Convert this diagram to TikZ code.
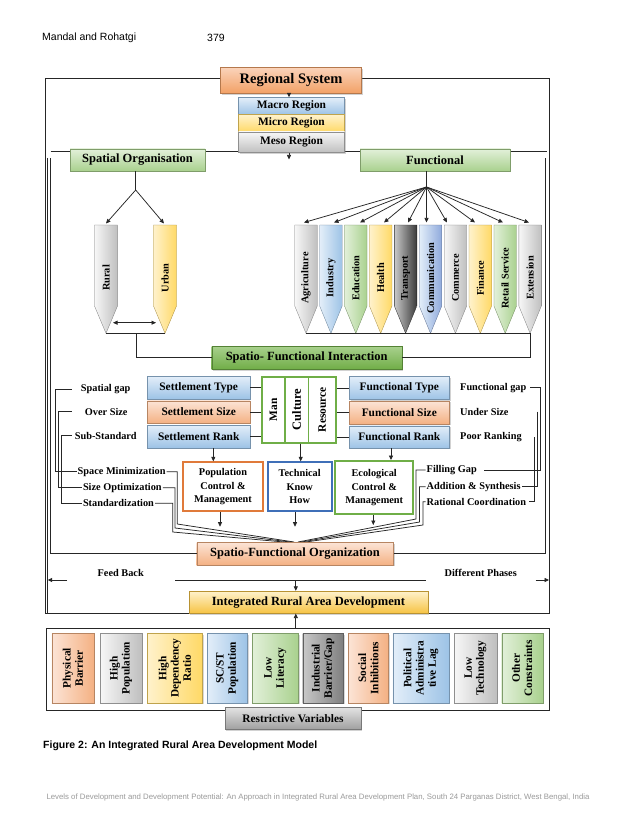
\documentclass[tikz,border=0pt]{standalone}
\usepackage{fontspec}
\setmainfont{Liberation Serif}
\newfontfamily\arialf{Liberation Sans}
\usetikzlibrary{arrows.meta,shadows,calc}
\definecolor{orL}{HTML}{FCE4D6}
\definecolor{orD}{HTML}{F4B183}
\definecolor{orRL}{HTML}{FAD3BA}
\definecolor{orRD}{HTML}{F2A065}
\definecolor{blL}{HTML}{E3EEF9}
\definecolor{blD}{HTML}{9DC3E6}
\definecolor{blS}{HTML}{8FAADC}
\definecolor{yeL}{HTML}{FFF2CC}
\definecolor{yeD}{HTML}{FFD966}
\definecolor{yeI}{HTML}{F6C343}
\definecolor{grL}{HTML}{F7F7F7}
\definecolor{grD}{HTML}{BFBFBF}
\definecolor{gnL}{HTML}{E2F0D9}
\definecolor{gnD}{HTML}{A9D18E}
\definecolor{gnS}{HTML}{70AD47}
\definecolor{dkL}{HTML}{C8C8C8}
\definecolor{dkD}{HTML}{3A3A3A}
\definecolor{mdL}{HTML}{C8C8C8}
\definecolor{mdD}{HTML}{7F7F7F}
\definecolor{rvL}{HTML}{E3E3E3}
\definecolor{rvD}{HTML}{A0A0A0}
\definecolor{lineC}{HTML}{262626}
\definecolor{popC}{HTML}{E07A3A}
\definecolor{techC}{HTML}{3F6FB8}
\definecolor{ecoC}{HTML}{6FAE47}
\definecolor{footC}{HTML}{9A9A9A}
\tikzset{
  ln/.style={draw=lineC, line width=0.75pt},
  arr/.style={ln, -{Triangle[length=4.5pt,width=4pt]}},
  darr/.style={ln, {Triangle[length=4.5pt,width=4pt]}-{Triangle[length=4.5pt,width=4pt]}},
  gbox/.style 2 args={top color=#1, bottom color=#2, draw=#2!75!black, line width=0.4pt, inner sep=0pt,
     drop shadow={shadow xshift=1.2pt, shadow yshift=-1.2pt, opacity=0.35, fill=black!50}},
  hbox/.style 2 args={left color=#1, right color=#2, draw=#2!75!black, line width=0.4pt, inner sep=0pt,
     drop shadow={shadow xshift=1.2pt, shadow yshift=-1.2pt, opacity=0.3, fill=black!50}},
  t14/.style={font=\bfseries\fontsize{14.5}{17}\selectfont},
  t12/.style={font=\bfseries\fontsize{12.5}{15}\selectfont},
  t11/.style={font=\bfseries\fontsize{11.4}{13}\selectfont},
  t10/.style={font=\bfseries\fontsize{10.3}{13.7}\selectfont},
  tr/.style={font=\bfseries\fontsize{11.3}{12.2}\selectfont},
  lab/.style={font=\bfseries\fontsize{10.3}{12}\selectfont, inner sep=1pt},
  pbox/.style={fill=white, line width=2pt, inner sep=0pt, align=center, t10},
}
\newcommand{\drawpencil}[6]{%
  \path[draw=#5!65!black, line width=0.3pt, left color=#4, right color=#5]
    (#2-#3,225) -- (#2+#3,225) -- (#2+#3,306) -- (#2,333.3) -- (#2-#3,306) -- cycle;
  \coordinate (#1top) at (#2,225);
  \coordinate (#1tip) at (#2,333.3);
  \node[rotate=90, t10, inner sep=0pt] (#1) at (#2,278) {#6};
}
\begin{document}
\begin{tikzpicture}[x=1pt,y=-1pt]
\fill[white] (0,0) rectangle (638,826);
\useasboundingbox (0,0) rectangle (638,826);

% header
\node[anchor=west, font=\arialf\fontsize{10.5}{12}\selectfont, inner sep=0pt] (hdr) at (42,38) {Mandal and Rohatgi};
\node[anchor=west, font=\arialf\fontsize{10.5}{12}\selectfont, inner sep=0pt] (pg) at (207,38) {379};

% frames
\draw[ln] (45.5,78) rectangle (549,613.3);
\coordinate (mlT) at (47.7,158);
\coordinate (mlB) at (47.7,613.3);
\draw[ln] (mlT) -- (mlB);
\coordinate (hL) at (50.5,151);
\coordinate (hR) at (547,151);
\draw[ln] (hL) -- (hR);
\coordinate (iL) at (50,158);
\coordinate (iR) at (545.5,158);

% regional system
\node[gbox={orRL}{orRD}, minimum width=141, minimum height=26, t14] (rs) at (291,80.5) {Regional System};
\node[gbox={blL}{blD}, minimum width=106, minimum height=17, t11] (mac) at (291.5,106) {Macro Region};
\node[gbox={yeL}{yeD}, minimum width=106, minimum height=17.5, t11] (mic) at (291.5,123.25) {Micro Region};
\node[gbox={grL}{grD}, minimum width=106, minimum height=20.5, t11] (mes) at (291.5,142.25) {Meso Region};
\draw[arr] (rs.south -| 289,0) -- (mac.north -| 289,0);
\coordinate (mesA) at (289,159.5);
\draw[arr] (mes.south -| mesA) -- (mesA);

\node[gbox={gnL}{gnD}, minimum width=135, minimum height=22, t12] (so) at (137.5,160) {Spatial Organisation};
\node[gbox={gnL}{gnD}, minimum width=150, minimum height=22, t12] (fn) at (435,160) {Functional};

% rural / urban
\coordinate (soh) at (135.7,190);
\draw[ln] (so.south -| soh) -- (soh);
\drawpencil{rur}{106}{11.5}{grL}{grD}{Rural}
\drawpencil{urb}{165}{11.5}{yeL}{yeD}{Urban}
\coordinate (rurA) at (106,223.5);
\coordinate (urbA) at (164,223.5);
\draw[arr] (soh) -- (rurA);
\draw[arr] (soh) -- (urbA);
\coordinate (ruD) at (113,322.7);
\coordinate (urD) at (156,322.7);
\draw[darr] (ruD) -- (urD);
\draw[ln] (rurtip) -- (urbtip);
\coordinate (rum) at (136,333.3);

% interaction box
\node[gbox={gnD}{gnS}, minimum width=190, minimum height=23.3, t12] (sfi) at (306.7,357.7) {Spatio- Functional Interaction};
\draw[ln] (rum) |- (sfi.west);

% functional pencils
\coordinate (fh) at (426.5,187);
\draw[ln] (fh |- fn.south) -- (fh);
\foreach \i/\cx/\cl/\cd/\tx/\ax in {
  1/306/grL/grD/Agriculture/304,
  2/330.9/blL/blD/Industry/334,
  3/355.8/gnL/gnD/Education/360,
  4/380.7/yeL/yeD/Health/384,
  5/405.6/dkL/dkD/Transport/408,
  6/430.5/blL/blS/Communication/426.5,
  7/455.4/grL/grD/Commerce/447,
  8/480.3/yeL/yeD/Finance/475,
  9/505.2/gnL/gnD/Retail Service/503,
  10/530.1/grL/grD/Extension/529} {
  \drawpencil{fp\i}{\cx}{11.25}{\cl}{\cd}{\tx}
  \coordinate (fa\i) at (\ax,222.5);
  \draw[arr] (fh) -- (fa\i);
}
\draw[ln] (fp1tip) -- (fp10tip);
\draw[ln] (fp10tip) |- (sfi.east);

% settlement boxes
\node[gbox={blL}{blD}, minimum width=102.7, minimum height=22.5, t11] (st) at (198.7,387.7) {Settlement Type};
\node[gbox={orL}{orD}, minimum width=102.7, minimum height=22.5, t11] (ss) at (198.7,412) {Settlement Size};
\node[gbox={blL}{blD}, minimum width=102.7, minimum height=22.5, t11] (sr) at (198.7,436.5) {Settlement Rank};

% man culture resource
\node[draw=ecoC, line width=1.6pt, minimum width=23.3, minimum height=66, inner sep=0pt] (man) at (273.35,409.7) {};
\node[draw=ecoC, line width=1.6pt, minimum width=23.3, minimum height=66, inner sep=0pt] (cul) at (296.65,409.7) {};
\node[draw=ecoC, line width=1.6pt, minimum width=27.7, minimum height=66, inner sep=0pt] (res) at (322.15,409.7) {};
\node[rotate=90, t11] (mant) at (man) {Man};
\node[rotate=90, font=\bfseries\fontsize{12.5}{14}\selectfont] (cult) at (cul) {Culture};
\node[rotate=90, t11] (rest) at (res) {Resource};

\draw[ln] (st.east) -- (st.east -| man.west);
\draw[ln] (ss.east) -- (ss.east -| man.west);
\draw[ln] (sr.east) -- (sr.east -| man.west);

% functional boxes
\node[gbox={blL}{blD}, minimum width=100, minimum height=23, t11] (ft) at (399.3,388) {Functional Type};
\node[gbox={orL}{orD}, minimum width=100, minimum height=23, t11] (fs) at (399.3,412.5) {Functional Size};
\node[gbox={blL}{blD}, minimum width=100, minimum height=22.5, t11] (fr) at (399.3,437) {Functional Rank};
\draw[ln] (res.east |- ft.west) -- (ft.west);
\draw[ln] (res.east |- fs.west) -- (fs.west);
\draw[ln] (res.east |- fr.west) -- (fr.west);

% left labels
\node[lab] (lsg) at (105.7,389.3) {Spatial gap};
\node[lab] (los) at (106.2,411.7) {Over Size};
\node[lab] (lss) at (105.8,435.7) {Sub-Standard};
\node[lab, anchor=west] (lsm) at (76.5,471.7) {Space Minimization};
\node[lab, anchor=west] (lso) at (81.8,487.7) {Size Optimization};
\node[lab, anchor=west] (lst) at (81.8,503.3) {Standardization};
\coordinate (lb1s) at (71.7,389.3);
\coordinate (lb1c) at (55,471.7);
\coordinate (lb2s) at (71.7,411.7);
\coordinate (lb2c) at (58.3,487.7);
\coordinate (lb3s) at (71.7,435.7);
\coordinate (lb3c) at (61.7,503.3);
\draw[ln] (lb1s) -| (lb1c) -- (lsm.west);
\draw[ln] (lb2s) -| (lb2c) -- (lso.west);
\draw[ln] (lb3s) -| (lb3c) -- (lst.west);

% right labels
\node[lab, anchor=west] (lfgap) at (459,387.7) {Functional gap};
\node[lab, anchor=west] (lus) at (459,411.7) {Under Size};
\node[lab, anchor=west] (lpr) at (459,437) {Poor Ranking};
\node[lab, anchor=west] (lfg) at (425.5,470) {Filling Gap};
\node[lab, anchor=west] (las) at (425.5,486.7) {Addition \& Synthesis};
\node[lab, anchor=west] (lrc) at (425.5,501.7) {Rational Coordination};
\coordinate (rb1s) at (530,387.7);
\coordinate (rb1c) at (540,470);
\coordinate (rb2s) at (537,411.7);
\coordinate (rb2c) at (537,486.7);
\coordinate (rb3s) at (534,437);
\coordinate (rb3c) at (534,501.7);
\draw[ln] (rb1s) -| (rb1c) -- ($(lfg.east)+(6,0)$);
\draw[ln] (rb2s) -- (rb2c) -- (las.east);
\draw[ln] (rb3s) -- (rb3c) -- ($(lrc.east)+(2,0)$);

% process boxes
\node[pbox, draw=popC, minimum width=80.6, minimum height=48.7] (pop) at (223,486.7) {Population\\Control \&\\Management};
\node[pbox, draw=techC, minimum width=64, minimum height=48.7] (tech) at (299.7,486.7) {Technical\\Know\\How};
\node[pbox, draw=ecoC, minimum width=78.3, minimum height=53.3] (eco) at (374.2,487.7) {Ecological\\Control \&\\Management};
\coordinate (popN) at (213.3,0);
\coordinate (techN) at (300.7,0);
\coordinate (ecoN) at (391,0);
\draw[arr] (sr.south -| popN) -- (pop.north -| popN);
\draw[arr] (man.south -| techN) -- (tech.north -| techN);
\draw[arr] (fr.south -| ecoN) -- (eco.north -| ecoN);
\coordinate (popO) at (220,526.7);
\coordinate (techO) at (295,526.7);
\coordinate (ecoO) at (373.3,525);
\draw[arr] (pop.south -| popO) -- (popO);
\draw[arr] (tech.south -| techO) -- (techO);
\draw[arr] (eco.south -| ecoO) -- (ecoO);

% converging lines
\coordinate (l1a) at (177.3,524);
\coordinate (l2a) at (175,528);
\coordinate (l3a) at (172.7,532);
\coordinate (cv1) at (294,542);
\coordinate (cv2) at (294.5,542.5);
\coordinate (cv3) at (295,543);
\draw[ln] (lsm.east) -| (l1a) -- (cv1);
\draw[ln] (lso.east) -| (l2a) -- (cv2);
\draw[ln] (lst.east) -| (l3a) -- (cv3);
\coordinate (r1a) at (416,519);
\coordinate (r2a) at (419.5,522);
\coordinate (r3a) at (423,525);
\coordinate (cr1) at (298,542);
\coordinate (cr2) at (298.5,542.5);
\coordinate (cr3) at (299,543);
\draw[ln] (lfg.west) -| (r1a) -- (cr1);
\draw[ln] (las.west) -| (r2a) -- (cr2);
\draw[ln] (lrc.west) -| (r3a) -- (cr3);

% spatio-functional organization
\node[gbox={orL}{orD}, minimum width=196.6, minimum height=22.7, t12] (sfo) at (295,553.7) {Spatio-Functional Organization};
\draw[ln] (sfo.west) -| (iL);
\draw[ln] (sfo.east) -| (iR);

% feed back
\node[lab] (fbl) at (120.7,573.3) {Feed Back};
\node[lab] (dpl) at (480.7,573.3) {Different Phases};
\coordinate (fbL) at (175,580);
\coordinate (fbR) at (426,580);
\coordinate (fbM) at (295.8,580);
\draw[ln] (fbL) -- (fbR);
\coordinate (fbA) at (67,580);
\coordinate (fbT) at (47.7,580);
\coordinate (dpA) at (535.6,580);
\coordinate (dpT) at (549,580);
\draw[arr] (fbA) -- (fbT);
\draw[arr] (dpA) -- (dpT);

\node[gbox={yeL}{yeI}, minimum width=238.8, minimum height=22.3, t12] (irad) at (308.4,602.2) {Integrated Rural Area Development};
\draw[arr] (fbM) -- (irad.north -| fbM);

% restrictive variables
\node[ln, minimum width=503.3, minimum height=82.2, inner sep=0pt] (rfr) at (297.65,669.4) {};
\draw[arr] (rfr.north -| fbM) -- (irad.south -| fbM);
\foreach \i/\cx/\w/\cl/\cd/\tx in {
  1/72.9/42.3/orL/orD/{Physical\\Barrier},
  2/120.9/41.7/grL/grD/{High\\Population},
  3/174.8/55/yeL/yeD/{High\\Dependency\\Ratio},
  4/227.3/40/blL/blD/{SC/ST\\Population},
  5/275.3/46/gnL/gnD/{Low\\Literacy},
  6/323/40.6/mdL/mdD/{Industrial\\Barrier/Gap},
  7/368.3/40/orL/orD/{Social\\Inhibitions},
  8/420.9/56.3/blL/blD/{Political\\Administra\\tive Lag},
  9/475.4/42.7/grL/grD/{Low\\Technology},
  10/522.2/41/gnL/gnD/{Other\\Constraints}} {
  \node[hbox={\cl}{\cd}, minimum width=\w, minimum height=69.7] (rv\i) at (\cx,668.2) {};
  \node[rotate=90, tr, align=center, inner sep=0pt] (rvt\i) at (rv\i) {\tx};
}
\node[gbox={rvL}{rvD}, minimum width=136, minimum height=22, t11] (rvar) at (293,718.3) {Restrictive Variables};

% caption and footer
\node[anchor=west, font=\arialf\bfseries\fontsize{10.5}{12}\selectfont, inner sep=0pt] (cap) at (43,746) {Figure 2: An Integrated Rural Area Development Model};
\node[font=\arialf\fontsize{7.8}{9}\selectfont, text=footC, inner sep=0pt] (foot) at (318,797) {Levels of Development and Development Potential: An Approach in Integrated Rural Area Development Plan, South 24 Parganas District, West Bengal, India};
\end{tikzpicture}
\end{document}
